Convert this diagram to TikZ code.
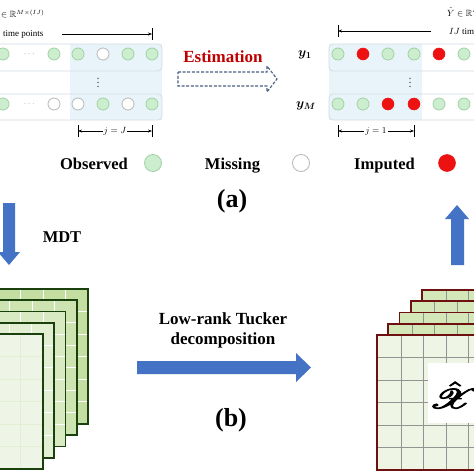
\documentclass[tikz,border=0pt]{standalone}
\usepackage{fix-cm}
\usepackage{amsmath,amssymb}
\usepackage{mathrsfs}
\usepackage{fontspec}
\setmainfont{Liberation Serif}
\usetikzlibrary{arrows.meta,calc}
\definecolor{obsfill}{HTML}{CDEDCF}
\definecolor{obsdraw}{HTML}{9FD3A3}
\definecolor{misdraw}{HTML}{B8B8B8}
\definecolor{impred}{HTML}{EE1111}
\definecolor{arrblue}{HTML}{4472C4}
\definecolor{estred}{HTML}{C00000}
\definecolor{dashblue}{HTML}{4A5F80}
\definecolor{blueshade}{HTML}{E9F4FA}
\definecolor{rowline}{HTML}{D3DCE3}
\definecolor{lgA}{HTML}{C3DEA0}
\definecolor{lgB}{HTML}{CDE4B0}
\definecolor{lgC}{HTML}{D8EAC2}
\definecolor{lgD}{HTML}{E2EFD2}
\definecolor{lgE}{HTML}{EEF5E6}
\definecolor{stackgreen}{HTML}{1A400E}
\definecolor{stackred}{HTML}{6E1010}
\definecolor{rgback}{HTML}{D3E7B9}
\definecolor{rgfront}{HTML}{EEF5E5}
\newcommand{\fakebold}[1]{\special{pdf:literal 2 Tr 0.9 w}#1\special{pdf:literal 0 Tr 0.4 w}}
\begin{document}
\begin{tikzpicture}[x=1pt,y=-1pt,
  obs/.style={circle,minimum size=12pt,inner sep=0pt,fill=obsfill,draw=obsdraw,line width=0.8pt},
  mis/.style={circle,minimum size=12pt,inner sep=0pt,fill=white,draw=misdraw,line width=0.8pt},
  imp/.style={circle,minimum size=12pt,inner sep=0pt,fill=impred,draw=impred,line width=0.5pt},
  legobs/.style={obs,minimum size=17pt},
  legmis/.style={mis,minimum size=17pt},
  legimp/.style={imp,minimum size=17pt},
  rowbox/.style={draw=rowline,line width=0.8pt,rounded corners=4pt},
  small/.style={font=\fontsize{9}{9}\selectfont,inner sep=1pt},
  legtext/.style={font=\fontsize{16.5}{16.5}\selectfont\bfseries,inner sep=0pt,anchor=base},
  caption/.style={font=\fontsize{26}{26}\selectfont\bfseries,inner sep=0pt},
  dimline/.style={line width=0.6pt,-{Stealth[length=4pt,width=3pt]}},
  bar/.style={line width=0.6pt},
  dotsty/.style={text=gray,inner sep=0pt,font=\fontsize{9}{9}\selectfont},
  vdotsty/.style={text=black!75,inner sep=0pt,font=\fontsize{12}{12}\selectfont}]
\clip (0,0) rectangle (474,474);
\fill[white] (0,0) rectangle (474,474);

% ---------- (a) left: observed matrix ----------
\node[small,anchor=west] (yset) at (0,14) {$\in\mathbb{R}^{M\times(IJ)}$};
\node[small,anchor=west] (tp) at (2,34) {time points};
\coordinate (tpA) at (62,34);
\coordinate (tpB) at (152,34);
\draw[dimline] (tpA) -- (tpB);
\draw[bar] (152,28) -- (152,40);

\fill[blueshade] (70,44) rectangle (162,120);
\draw[rowbox] (-10,44) rectangle (162,71);
\draw[rowbox] (-10,94) rectangle (162,120);

\node[obs] (a11) at (3,54) {};
\node[dotsty] (a1d) at (30,54) {$\cdots$};
\node[obs] (a12) at (54,54) {};
\node[obs] (a13) at (78,54) {};
\node[mis] (a14) at (103,54) {};
\node[obs] (a15) at (128,54) {};
\node[obs] (a16) at (152,54) {};
\node[vdotsty] (avd) at (98,80) {$\vdots$};
\node[obs] (a21) at (3,104) {};
\node[dotsty] (a2d) at (30,104) {$\cdots$};
\node[mis] (a22) at (54,104) {};
\node[mis] (a23) at (78,104) {};
\node[obs] (a24) at (103,104) {};
\node[mis] (a25) at (128,104) {};
\node[obs] (a26) at (152,104) {};

\node[small] (jJ) at (115,131) {$j=J$};
\coordinate (jJl) at (78,131);
\coordinate (jJr) at (152,131);
\draw[dimline] (jJ.west) -- (jJl);
\draw[dimline] (jJ.east) -- (jJr);
\draw[bar] (78,125) -- (78,137);
\draw[bar] (152,125) -- (152,137);

% ---------- Estimation arrow ----------
\node[font=\fontsize{17}{17}\selectfont\bfseries,text=estred,inner sep=0pt] (est) at (223,57) {Estimation};
\coordinate (estL) at (178,79);
\coordinate (estR) at (277,79);
\draw[dashblue,line width=1.1pt,dash pattern=on 3pt off 1.6pt]
  ($(estL)+(0,-7)$) -- (267,72) -- (267,66) -- (estR) -- (267,92) -- (267,86) -- ($(estL)+(0,7)$) -- cycle;

% ---------- (a) right: imputed matrix ----------
\node[small,anchor=west] (yhat) at (446,12) {$\hat{Y}\in\mathbb{R}^{M\times(IJ)}$};
\node[small,anchor=west] (tpr) at (448,32) {$IJ$ time points};
\coordinate (tprA) at (431,31);
\coordinate (tprB) at (338,31);
\draw[dimline] (tprA) -- (tprB);
\draw[bar] (338,25) -- (338,37);

\fill[blueshade] (329,44) rectangle (422,120);
\draw[rowbox] (329,44) rectangle (500,71);
\draw[rowbox] (329,94) rectangle (500,120);

\node[font=\fontsize{13}{13}\selectfont,inner sep=0pt] (y1) at (305,55) {$\boldsymbol{y_1}$};
\node[font=\fontsize{13}{13}\selectfont,inner sep=0pt] (yM) at (306,106) {$\boldsymbol{y_M}$};

\node[obs] (b11) at (338,54) {};
\node[imp] (b12) at (363,54) {};
\node[obs] (b13) at (388,54) {};
\node[obs] (b14) at (414,54) {};
\node[imp] (b15) at (439,54) {};
\node[obs] (b16) at (464,54) {};
\node[vdotsty] (bvd) at (410,80) {$\vdots$};
\node[obs] (b21) at (338,104) {};
\node[obs] (b22) at (363,104) {};
\node[imp] (b23) at (388,104) {};
\node[imp] (b24) at (414,104) {};
\node[obs] (b25) at (439,104) {};
\node[obs] (b26) at (464,104) {};

\node[small] (j1) at (376,131) {$j=1$};
\coordinate (j1l) at (338,131);
\coordinate (j1r) at (414,131);
\draw[dimline] (j1.west) -- (j1l);
\draw[dimline] (j1.east) -- (j1r);
\draw[bar] (338,125) -- (338,137);
\draw[bar] (414,125) -- (414,137);

% ---------- legend ----------
\node[legtext] (lo) at (94,169) {Observed};
\node[legobs] (lco) at (153,163) {};
\node[legtext] (lm) at (232.5,169) {Missing};
\node[legmis] (lcm) at (301,163) {};
\node[legtext] (li) at (384.5,169) {Imputed};
\node[legimp] (lci) at (447,163) {};

\node[caption] (capa) at (232,201) {(a)};

% ---------- blue arrows ----------
\fill[arrblue] (3,203) -- (15,203) -- (15,252) -- (20,252) -- (9,265) -- (-2,252) -- (3,252) -- cycle;
\node[legtext] (mdt) at (62,242) {MDT};
\fill[arrblue] (451,265) -- (464,265) -- (464,219) -- (469,219) -- (457,205) -- (445,219) -- (451,219) -- cycle;

\node[font=\fontsize{17}{20}\selectfont\bfseries,align=center,inner sep=0pt] (tucker) at (223,330) {Low-rank Tucker\\decomposition};
\fill[arrblue] (137,361) -- (296,361) -- (296,353) -- (311,367.5) -- (296,382) -- (296,374) -- (137,374) -- cycle;

\node[caption] (capb) at (231,420) {(b)};

% ---------- left tensor stack ----------
\foreach \i/\c/\g in {0/lgA/white,1/lgB/white,2/lgC/white,3/lgD/white,4/lgE/lgD}{
  \pgfmathsetmacro\R{88-11.25*\i}
  \pgfmathsetmacro\T{289+11.25*\i}
  \fill[\c] (\R-200,\T) rectangle (\R,\T+135);
  \begin{scope}
    \clip (\R-200,\T) rectangle (\R,\T+135);
    \foreach \k in {1,...,8}{\draw[\g,line width=0.8pt] (\R-22.4*\k,\T) -- (\R-22.4*\k,\T+135);}
    \foreach \k in {1,...,5}{\draw[\g,line width=0.8pt] (\R-200,\T+22.5*\k) -- (\R,\T+22.5*\k);}
  \end{scope}
  \draw[stackgreen,line width=1.6pt] (\R-200,\T) rectangle (\R,\T+135);
}

% ---------- right tensor stack ----------
\foreach \i/\c in {4/rgback,3/rgback,2/rgback,1/rgback,0/rgfront}{
  \pgfmathsetmacro\L{377+11.25*\i}
  \pgfmathsetmacro\T{335-11.25*\i}
  \fill[\c] (\L,\T) rectangle (\L+200,\T+135);
  \begin{scope}
    \clip (\L,\T) rectangle (\L+200,\T+135);
    \foreach \k in {0,...,7}{\draw[gray!85,line width=0.6pt] (\L+24+22.5*\k,\T) -- (\L+24+22.5*\k,\T+135);}
    \foreach \k in {1,...,5}{\draw[gray!85,line width=0.6pt] (\L,\T+22.5*\k) -- (\L+200,\T+22.5*\k);}
  \end{scope}
  \draw[stackred,line width=1.6pt] (\L,\T) rectangle (\L+200,\T+135);
}
\fill[white] (428,363) rectangle (500,423);
\node[xscale=1.7,yscale=1.1,inner sep=0pt] (xhat) at (454,395) {\fontsize{24.88}{25}\selectfont\fakebold{$\skew{1}{\hat}{\mathscr{X}}$}};
\end{tikzpicture}
\end{document}
